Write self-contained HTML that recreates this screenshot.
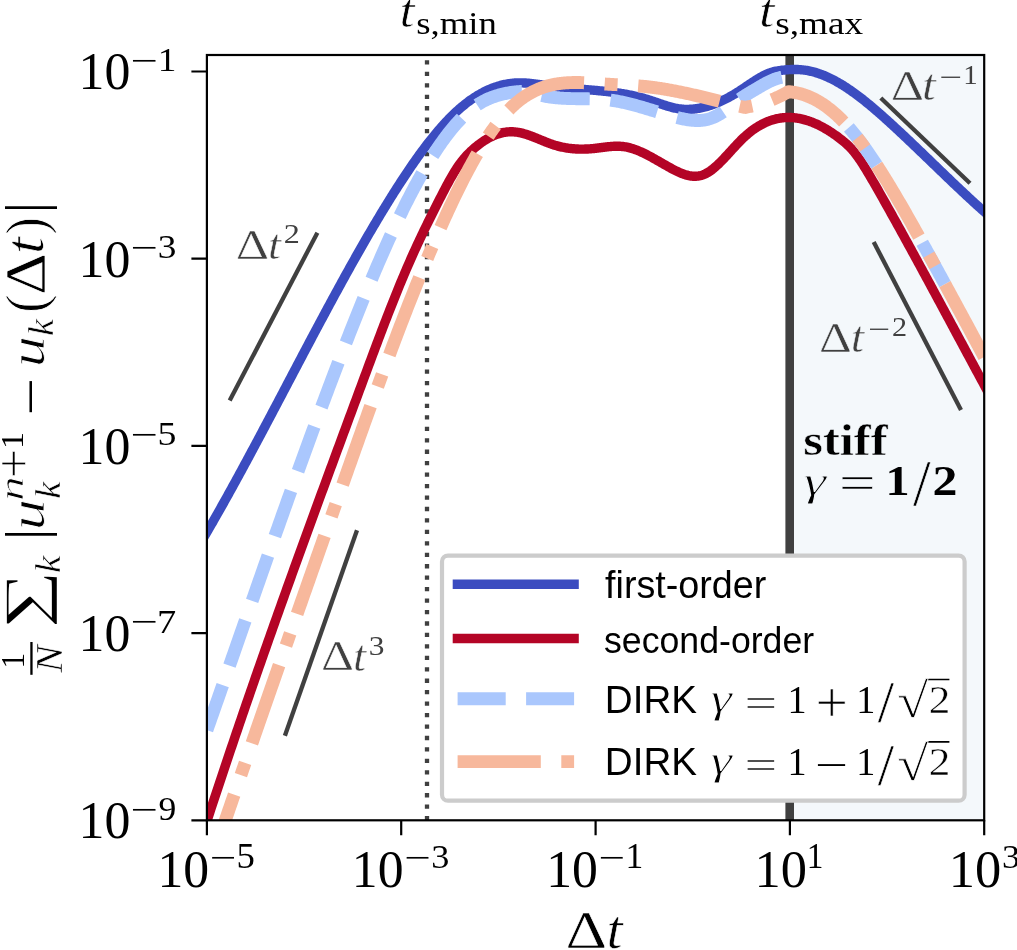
<!DOCTYPE html>
<html lang="en"><head><meta charset="utf-8"><title>Convergence of time integrators</title>
<style>
html,body{margin:0;padding:0;background:#fff}
svg{display:block}
text{font-family:"Liberation Serif","DejaVu Serif",serif;fill:#000}
.ss{font-family:"Liberation Sans","DejaVu Sans",sans-serif}
.it{font-style:italic}
.b{font-weight:bold}
.g{fill:#404040}
</style></head><body>
<svg width="1017" height="950" viewBox="0 0 1017 950">
<defs><clipPath id="ax"><rect x="206.9" y="55.0" width="777.3" height="765.3"/></clipPath></defs>
<rect width="1017" height="950" fill="#fff"/>
<g clip-path="url(#ax)">
<rect x="789.9" y="55" width="194.3" height="765.3" fill="#f4f8fb"/>
<line x1="789.7" y1="55" x2="789.7" y2="820.3" stroke="#404040" stroke-width="8.6"/>
<line x1="427" y1="820.3" x2="427" y2="55" stroke="#404040" stroke-width="4.3" stroke-dasharray="4.3 7.15" stroke-dashoffset="0.00"/>
<line x1="229.7" y1="400.5" x2="317.4" y2="232.7" stroke="#404040" stroke-width="4.3"/>
<line x1="284.9" y1="735.8" x2="357.0" y2="530.2" stroke="#404040" stroke-width="4.3"/>
<line x1="880.8" y1="98.0" x2="970.0" y2="183.3" stroke="#404040" stroke-width="4.3"/>
<line x1="873.7" y1="242.0" x2="961.0" y2="410.0" stroke="#404040" stroke-width="4.3"/>
<path d="M199.00 545.83 L207.60 530.96 L208.60 529.23 L209.60 527.50 L210.60 525.77 L211.60 524.03 L212.60 522.29 L213.60 520.54 L214.60 518.79 L215.60 517.03 L216.60 515.27 L217.61 513.51 L218.61 511.74 L219.61 509.97 L220.61 508.19 L221.61 506.42 L222.61 504.63 L223.61 502.85 L224.61 501.06 L225.61 499.26 L226.61 497.47 L227.61 495.67 L228.61 493.86 L229.61 492.06 L230.61 490.25 L231.61 488.44 L232.61 486.62 L233.61 484.80 L234.61 482.98 L235.61 481.15 L236.61 479.32 L237.62 477.49 L238.62 475.66 L239.62 473.82 L240.62 471.98 L241.62 470.14 L242.62 468.30 L243.62 466.45 L244.62 464.60 L245.62 462.75 L246.62 460.90 L247.62 459.04 L248.62 457.18 L249.62 455.32 L250.62 453.46 L251.62 451.59 L252.62 449.73 L253.62 447.86 L254.62 445.99 L255.62 444.11 L256.62 442.24 L257.63 440.36 L258.63 438.49 L259.63 436.61 L260.63 434.73 L261.63 432.84 L262.63 430.96 L263.63 429.07 L264.63 427.19 L265.63 425.30 L266.63 423.41 L267.63 421.52 L268.63 419.63 L269.63 417.74 L270.63 415.84 L271.63 413.95 L272.63 412.05 L273.63 410.16 L274.63 408.26 L275.63 406.36 L276.64 404.47 L277.64 402.57 L278.64 400.67 L279.64 398.77 L280.64 396.87 L281.64 394.97 L282.64 393.07 L283.64 391.16 L284.64 389.26 L285.64 387.36 L286.64 385.46 L287.64 383.56 L288.64 381.66 L289.64 379.75 L290.64 377.85 L291.64 375.95 L292.64 374.05 L293.64 372.15 L294.64 370.25 L295.64 368.35 L296.65 366.45 L297.65 364.55 L298.65 362.65 L299.65 360.75 L300.65 358.85 L301.65 356.96 L302.65 355.06 L303.65 353.17 L304.65 351.27 L305.65 349.38 L306.65 347.49 L307.65 345.60 L308.65 343.71 L309.65 341.82 L310.65 339.93 L311.65 338.04 L312.65 336.16 L313.65 334.28 L314.65 332.39 L315.66 330.51 L316.66 328.63 L317.66 326.76 L318.66 324.88 L319.66 323.01 L320.66 321.13 L321.66 319.26 L322.66 317.40 L323.66 315.53 L324.66 313.67 L325.66 311.80 L326.66 309.94 L327.66 308.08 L328.66 306.23 L329.66 304.38 L330.66 302.52 L331.66 300.68 L332.66 298.83 L333.66 296.99 L334.66 295.14 L335.67 293.31 L336.67 291.47 L337.67 289.64 L338.67 287.81 L339.67 285.98 L340.67 284.16 L341.67 282.33 L342.67 280.52 L343.67 278.70 L344.67 276.89 L345.67 275.08 L346.67 273.27 L347.67 271.47 L348.67 269.67 L349.67 267.87 L350.67 266.08 L351.67 264.29 L352.67 262.51 L353.67 260.73 L354.68 258.95 L355.68 257.17 L356.68 255.40 L357.68 253.64 L358.68 251.88 L359.68 250.12 L360.68 248.36 L361.68 246.61 L362.68 244.87 L363.68 243.12 L364.68 241.39 L365.68 239.65 L366.68 237.92 L367.68 236.20 L368.68 234.48 L369.68 232.76 L370.68 231.05 L371.68 229.34 L372.68 227.64 L373.68 225.95 L374.69 224.25 L375.69 222.57 L376.69 220.88 L377.69 219.21 L378.69 217.53 L379.69 215.87 L380.69 214.20 L381.69 212.55 L382.69 210.90 L383.69 209.25 L384.69 207.61 L385.69 205.97 L386.69 204.34 L387.69 202.72 L388.69 201.10 L389.69 199.48 L390.69 197.88 L391.69 196.28 L392.69 194.68 L393.69 193.09 L394.70 191.51 L395.70 189.93 L396.70 188.36 L397.70 186.80 L398.70 185.24 L399.70 183.69 L400.70 182.15 L401.70 180.61 L402.70 179.08 L403.70 177.56 L404.70 176.05 L405.70 174.54 L406.70 173.04 L407.70 171.56 L408.70 170.07 L409.70 168.60 L410.70 167.14 L411.70 165.68 L412.70 164.23 L413.71 162.80 L414.71 161.37 L415.71 159.95 L416.71 158.54 L417.71 157.14 L418.71 155.74 L419.71 154.36 L420.71 152.99 L421.71 151.63 L422.71 150.28 L423.71 148.93 L424.71 147.60 L425.71 146.28 L426.71 144.97 L427.71 143.67 L428.71 142.38 L429.71 141.11 L430.71 139.84 L431.71 138.59 L432.71 137.34 L433.72 136.11 L434.72 134.89 L435.72 133.68 L436.72 132.49 L437.72 131.31 L438.72 130.13 L439.72 128.98 L440.72 127.83 L441.72 126.70 L442.72 125.58 L443.72 124.47 L444.72 123.37 L445.72 122.29 L446.72 121.22 L447.72 120.17 L448.72 119.13 L449.72 118.10 L450.72 117.09 L451.72 116.09 L452.73 115.11 L453.73 114.14 L454.73 113.18 L455.73 112.24 L456.73 111.32 L457.73 110.41 L458.73 109.51 L459.73 108.63 L460.73 107.76 L461.73 106.91 L462.73 106.08 L463.73 105.26 L464.73 104.46 L465.73 103.67 L466.73 102.89 L467.73 102.13 L468.73 101.39 L469.73 100.66 L470.73 99.95 L471.73 99.25 L472.74 98.57 L473.74 97.90 L474.74 97.24 L475.74 96.61 L476.74 95.98 L477.74 95.37 L478.74 94.78 L479.74 94.20 L480.74 93.63 L481.74 93.08 L482.74 92.55 L483.74 92.03 L484.74 91.52 L485.74 91.03 L486.74 90.56 L487.74 90.09 L488.74 89.65 L489.74 89.21 L490.74 88.79 L491.74 88.39 L492.75 88.00 L493.75 87.63 L494.75 87.27 L495.75 86.92 L496.75 86.59 L497.75 86.27 L498.75 85.97 L499.75 85.68 L500.75 85.40 L501.75 85.14 L502.75 84.89 L503.75 84.66 L504.75 84.44 L505.75 84.24 L506.75 84.05 L507.75 83.87 L508.75 83.71 L509.75 83.56 L510.75 83.43 L511.76 83.31 L512.76 83.20 L513.76 83.11 L514.76 83.03 L515.76 82.97 L516.76 82.92 L517.76 82.88 L518.76 82.86 L519.76 82.85 L520.76 82.85 L521.76 82.86 L522.76 82.89 L523.76 82.93 L524.76 82.98 L525.76 83.04 L526.76 83.11 L527.76 83.18 L528.76 83.27 L529.76 83.37 L530.76 83.47 L531.77 83.57 L532.77 83.69 L533.77 83.81 L534.77 83.93 L535.77 84.06 L536.77 84.20 L537.77 84.33 L538.77 84.47 L539.77 84.61 L540.77 84.76 L541.77 84.90 L542.77 85.04 L543.77 85.19 L544.77 85.33 L545.77 85.47 L546.77 85.61 L547.77 85.75 L548.77 85.88 L549.77 86.02 L550.77 86.14 L551.78 86.27 L552.78 86.40 L553.78 86.52 L554.78 86.64 L555.78 86.75 L556.78 86.87 L557.78 86.98 L558.78 87.09 L559.78 87.20 L560.78 87.31 L561.78 87.41 L562.78 87.51 L563.78 87.61 L564.78 87.71 L565.78 87.81 L566.78 87.91 L567.78 88.00 L568.78 88.10 L569.78 88.19 L570.79 88.28 L571.79 88.37 L572.79 88.46 L573.79 88.55 L574.79 88.64 L575.79 88.73 L576.79 88.81 L577.79 88.90 L578.79 88.98 L579.79 89.07 L580.79 89.15 L581.79 89.24 L582.79 89.32 L583.79 89.40 L584.79 89.49 L585.79 89.57 L586.79 89.65 L587.79 89.74 L588.79 89.82 L589.79 89.91 L590.80 89.99 L591.80 90.08 L592.80 90.17 L593.80 90.26 L594.80 90.34 L595.80 90.43 L596.80 90.53 L597.80 90.62 L598.80 90.71 L599.80 90.81 L600.80 90.91 L601.80 91.01 L602.80 91.11 L603.80 91.21 L604.80 91.32 L605.80 91.43 L606.80 91.54 L607.80 91.65 L608.80 91.77 L609.81 91.88 L610.81 92.01 L611.81 92.13 L612.81 92.26 L613.81 92.39 L614.81 92.52 L615.81 92.66 L616.81 92.80 L617.81 92.95 L618.81 93.09 L619.81 93.25 L620.81 93.40 L621.81 93.56 L622.81 93.73 L623.81 93.90 L624.81 94.07 L625.81 94.25 L626.81 94.43 L627.81 94.62 L628.81 94.81 L629.82 95.01 L630.82 95.21 L631.82 95.42 L632.82 95.64 L633.82 95.85 L634.82 96.08 L635.82 96.31 L636.82 96.55 L637.82 96.79 L638.82 97.04 L639.82 97.29 L640.82 97.55 L641.82 97.82 L642.82 98.09 L643.82 98.37 L644.82 98.66 L645.82 98.95 L646.82 99.25 L647.82 99.56 L648.83 99.87 L649.83 100.20 L650.83 100.52 L651.83 100.86 L652.83 101.20 L653.83 101.54 L654.83 101.88 L655.83 102.23 L656.83 102.57 L657.83 102.92 L658.83 103.27 L659.83 103.61 L660.83 103.95 L661.83 104.29 L662.83 104.63 L663.83 104.96 L664.83 105.28 L665.83 105.60 L666.83 105.91 L667.83 106.22 L668.84 106.51 L669.84 106.80 L670.84 107.07 L671.84 107.33 L672.84 107.58 L673.84 107.82 L674.84 108.04 L675.84 108.25 L676.84 108.44 L677.84 108.62 L678.84 108.78 L679.84 108.92 L680.84 109.04 L681.84 109.14 L682.84 109.23 L683.84 109.30 L684.84 109.34 L685.84 109.37 L686.84 109.39 L687.84 109.38 L688.85 109.36 L689.85 109.32 L690.85 109.27 L691.85 109.20 L692.85 109.11 L693.85 109.01 L694.85 108.90 L695.85 108.77 L696.85 108.62 L697.85 108.46 L698.85 108.29 L699.85 108.10 L700.85 107.90 L701.85 107.69 L702.85 107.46 L703.85 107.22 L704.85 106.97 L705.85 106.70 L706.85 106.42 L707.86 106.13 L708.86 105.83 L709.86 105.51 L710.86 105.19 L711.86 104.85 L712.86 104.49 L713.86 104.13 L714.86 103.75 L715.86 103.37 L716.86 102.97 L717.86 102.55 L718.86 102.13 L719.86 101.70 L720.86 101.25 L721.86 100.79 L722.86 100.32 L723.86 99.84 L724.86 99.35 L725.86 98.85 L726.86 98.34 L727.87 97.81 L728.87 97.28 L729.87 96.73 L730.87 96.18 L731.87 95.61 L732.87 95.04 L733.87 94.45 L734.87 93.85 L735.87 93.24 L736.87 92.63 L737.87 92.00 L738.87 91.36 L739.87 90.71 L740.87 90.06 L741.87 89.40 L742.87 88.73 L743.87 88.05 L744.87 87.38 L745.87 86.70 L746.88 86.02 L747.88 85.34 L748.88 84.66 L749.88 83.98 L750.88 83.31 L751.88 82.64 L752.88 81.98 L753.88 81.33 L754.88 80.68 L755.88 80.05 L756.88 79.42 L757.88 78.81 L758.88 78.21 L759.88 77.63 L760.88 77.06 L761.88 76.51 L762.88 75.98 L763.88 75.46 L764.88 74.97 L765.88 74.50 L766.89 74.05 L767.89 73.63 L768.89 73.23 L769.89 72.86 L770.89 72.52 L771.89 72.21 L772.89 71.92 L773.89 71.67 L774.89 71.43 L775.89 71.22 L776.89 71.02 L777.89 70.85 L778.89 70.69 L779.89 70.54 L780.89 70.41 L781.89 70.28 L782.89 70.17 L783.89 70.06 L784.89 69.96 L785.89 69.87 L786.90 69.78 L787.90 69.71 L788.90 69.65 L789.90 69.59 L790.90 69.55 L791.90 69.51 L792.90 69.49 L793.90 69.48 L794.90 69.48 L795.90 69.49 L796.90 69.51 L797.90 69.55 L798.90 69.60 L799.90 69.66 L800.90 69.74 L801.90 69.83 L802.90 69.93 L803.90 70.05 L804.90 70.18 L805.91 70.32 L806.91 70.49 L807.91 70.66 L808.91 70.86 L809.91 71.07 L810.91 71.29 L811.91 71.53 L812.91 71.78 L813.91 72.04 L814.91 72.33 L815.91 72.62 L816.91 72.93 L817.91 73.25 L818.91 73.59 L819.91 73.94 L820.91 74.30 L821.91 74.68 L822.91 75.07 L823.91 75.47 L824.91 75.89 L825.92 76.31 L826.92 76.75 L827.92 77.21 L828.92 77.67 L829.92 78.15 L830.92 78.63 L831.92 79.13 L832.92 79.65 L833.92 80.17 L834.92 80.70 L835.92 81.25 L836.92 81.80 L837.92 82.37 L838.92 82.95 L839.92 83.53 L840.92 84.13 L841.92 84.74 L842.92 85.36 L843.92 85.99 L844.93 86.62 L845.93 87.27 L846.93 87.93 L847.93 88.59 L848.93 89.27 L849.93 89.95 L850.93 90.64 L851.93 91.34 L852.93 92.05 L853.93 92.77 L854.93 93.49 L855.93 94.23 L856.93 94.97 L857.93 95.72 L858.93 96.47 L859.93 97.24 L860.93 98.01 L861.93 98.79 L862.93 99.57 L863.93 100.36 L864.94 101.16 L865.94 101.96 L866.94 102.78 L867.94 103.59 L868.94 104.42 L869.94 105.24 L870.94 106.08 L871.94 106.92 L872.94 107.76 L873.94 108.61 L874.94 109.47 L875.94 110.33 L876.94 111.19 L877.94 112.06 L878.94 112.94 L879.94 113.81 L880.94 114.70 L881.94 115.58 L882.94 116.47 L883.94 117.37 L884.95 118.26 L885.95 119.16 L886.95 120.07 L887.95 120.97 L888.95 121.88 L889.95 122.80 L890.95 123.71 L891.95 124.63 L892.95 125.55 L893.95 126.47 L894.95 127.39 L895.95 128.32 L896.95 129.25 L897.95 130.18 L898.95 131.11 L899.95 132.04 L900.95 132.98 L901.95 133.92 L902.95 134.86 L903.96 135.80 L904.96 136.74 L905.96 137.68 L906.96 138.63 L907.96 139.58 L908.96 140.53 L909.96 141.48 L910.96 142.43 L911.96 143.38 L912.96 144.33 L913.96 145.29 L914.96 146.24 L915.96 147.20 L916.96 148.16 L917.96 149.11 L918.96 150.07 L919.96 151.03 L920.96 151.99 L921.96 152.96 L922.96 153.92 L923.97 154.88 L924.97 155.84 L925.97 156.81 L926.97 157.77 L927.97 158.73 L928.97 159.70 L929.97 160.66 L930.97 161.63 L931.97 162.59 L932.97 163.56 L933.97 164.52 L934.97 165.48 L935.97 166.45 L936.97 167.41 L937.97 168.38 L938.97 169.34 L939.97 170.30 L940.97 171.27 L941.97 172.23 L942.98 173.19 L943.98 174.15 L944.98 175.11 L945.98 176.07 L946.98 177.03 L947.98 177.99 L948.98 178.95 L949.98 179.90 L950.98 180.86 L951.98 181.81 L952.98 182.77 L953.98 183.72 L954.98 184.67 L955.98 185.62 L956.98 186.57 L957.98 187.51 L958.98 188.46 L959.98 189.40 L960.98 190.34 L961.98 191.28 L962.99 192.22 L963.99 193.16 L964.99 194.09 L965.99 195.03 L966.99 195.96 L967.99 196.89 L968.99 197.82 L969.99 198.74 L970.99 199.67 L971.99 200.59 L972.99 201.51 L973.99 202.42 L974.99 203.34 L975.99 204.25 L976.99 205.16 L977.99 206.06 L978.99 206.97 L979.99 207.87 L980.99 208.77 L981.99 209.66 L983.00 210.56 L984.00 211.45 L985.00 212.33 L986.00 213.22 L987.00 214.10 L988.00 214.98 L989.00 215.85 L990.00 216.73 L991.00 217.59 L992.00 218.46" fill="none" stroke="#3b4cc0" stroke-width="9.4" stroke-linejoin="round"/>
<path d="M199.00 845.33 L207.70 818.80 L208.70 815.74 L209.70 812.69 L210.70 809.64 L211.70 806.59 L212.70 803.56 L213.70 800.52 L214.70 797.49 L215.71 794.46 L216.71 791.44 L217.71 788.43 L218.71 785.41 L219.71 782.40 L220.71 779.40 L221.71 776.40 L222.71 773.40 L223.71 770.41 L224.71 767.42 L225.71 764.44 L226.71 761.46 L227.71 758.48 L228.71 755.51 L229.71 752.54 L230.71 749.58 L231.72 746.62 L232.72 743.66 L233.72 740.71 L234.72 737.76 L235.72 734.82 L236.72 731.87 L237.72 728.94 L238.72 726.00 L239.72 723.07 L240.72 720.15 L241.72 717.22 L242.72 714.30 L243.72 711.39 L244.72 708.48 L245.72 705.57 L246.73 702.66 L247.73 699.76 L248.73 696.86 L249.73 693.97 L250.73 691.07 L251.73 688.19 L252.73 685.30 L253.73 682.42 L254.73 679.54 L255.73 676.66 L256.73 673.79 L257.73 670.92 L258.73 668.06 L259.73 665.19 L260.73 662.33 L261.73 659.48 L262.74 656.62 L263.74 653.77 L264.74 650.92 L265.74 648.08 L266.74 645.24 L267.74 642.40 L268.74 639.56 L269.74 636.72 L270.74 633.89 L271.74 631.07 L272.74 628.24 L273.74 625.42 L274.74 622.60 L275.74 619.78 L276.74 616.96 L277.75 614.15 L278.75 611.34 L279.75 608.53 L280.75 605.73 L281.75 602.93 L282.75 600.13 L283.75 597.33 L284.75 594.53 L285.75 591.74 L286.75 588.95 L287.75 586.16 L288.75 583.37 L289.75 580.59 L290.75 577.81 L291.75 575.03 L292.75 572.25 L293.76 569.47 L294.76 566.70 L295.76 563.93 L296.76 561.16 L297.76 558.39 L298.76 555.63 L299.76 552.86 L300.76 550.10 L301.76 547.34 L302.76 544.58 L303.76 541.83 L304.76 539.07 L305.76 536.32 L306.76 533.57 L307.76 530.82 L308.77 528.07 L309.77 525.32 L310.77 522.58 L311.77 519.84 L312.77 517.10 L313.77 514.36 L314.77 511.62 L315.77 508.88 L316.77 506.15 L317.77 503.41 L318.77 500.68 L319.77 497.95 L320.77 495.22 L321.77 492.49 L322.77 489.76 L323.77 487.04 L324.78 484.31 L325.78 481.59 L326.78 478.86 L327.78 476.14 L328.78 473.42 L329.78 470.70 L330.78 467.98 L331.78 465.27 L332.78 462.55 L333.78 459.84 L334.78 457.12 L335.78 454.41 L336.78 451.69 L337.78 448.98 L338.78 446.27 L339.79 443.56 L340.79 440.85 L341.79 438.14 L342.79 435.43 L343.79 432.73 L344.79 430.02 L345.79 427.31 L346.79 424.61 L347.79 421.90 L348.79 419.20 L349.79 416.49 L350.79 413.79 L351.79 411.08 L352.79 408.38 L353.79 405.68 L354.79 402.98 L355.80 400.27 L356.80 397.57 L357.80 394.87 L358.80 392.17 L359.80 389.47 L360.80 386.77 L361.80 384.07 L362.80 381.36 L363.80 378.66 L364.80 375.96 L365.80 373.26 L366.80 370.57 L367.80 367.87 L368.80 365.18 L369.80 362.49 L370.81 359.80 L371.81 357.11 L372.81 354.43 L373.81 351.76 L374.81 349.08 L375.81 346.42 L376.81 343.75 L377.81 341.10 L378.81 338.45 L379.81 335.80 L380.81 333.16 L381.81 330.53 L382.81 327.91 L383.81 325.29 L384.81 322.68 L385.81 320.09 L386.82 317.50 L387.82 314.91 L388.82 312.34 L389.82 309.78 L390.82 307.23 L391.82 304.69 L392.82 302.16 L393.82 299.65 L394.82 297.14 L395.82 294.65 L396.82 292.17 L397.82 289.70 L398.82 287.25 L399.82 284.81 L400.82 282.39 L401.82 279.98 L402.83 277.58 L403.83 275.20 L404.83 272.84 L405.83 270.49 L406.83 268.16 L407.83 265.84 L408.83 263.55 L409.83 261.27 L410.83 259.00 L411.83 256.75 L412.83 254.52 L413.83 252.31 L414.83 250.10 L415.83 247.92 L416.83 245.74 L417.84 243.58 L418.84 241.44 L419.84 239.30 L420.84 237.18 L421.84 235.07 L422.84 232.98 L423.84 230.89 L424.84 228.82 L425.84 226.75 L426.84 224.70 L427.84 222.65 L428.84 220.62 L429.84 218.59 L430.84 216.57 L431.84 214.56 L432.84 212.56 L433.85 210.57 L434.85 208.58 L435.85 206.60 L436.85 204.62 L437.85 202.65 L438.85 200.69 L439.85 198.73 L440.85 196.78 L441.85 194.83 L442.85 192.89 L443.85 190.97 L444.85 189.06 L445.85 187.16 L446.85 185.29 L447.85 183.44 L448.86 181.61 L449.86 179.81 L450.86 178.04 L451.86 176.30 L452.86 174.59 L453.86 172.92 L454.86 171.29 L455.86 169.70 L456.86 168.16 L457.86 166.66 L458.86 165.21 L459.86 163.81 L460.86 162.46 L461.86 161.15 L462.86 159.90 L463.86 158.68 L464.87 157.51 L465.87 156.38 L466.87 155.29 L467.87 154.23 L468.87 153.21 L469.87 152.22 L470.87 151.26 L471.87 150.33 L472.87 149.42 L473.87 148.54 L474.87 147.68 L475.87 146.85 L476.87 146.03 L477.87 145.24 L478.87 144.46 L479.88 143.71 L480.88 142.98 L481.88 142.27 L482.88 141.59 L483.88 140.92 L484.88 140.28 L485.88 139.66 L486.88 139.06 L487.88 138.49 L488.88 137.94 L489.88 137.41 L490.88 136.90 L491.88 136.42 L492.88 135.96 L493.88 135.52 L494.88 135.11 L495.89 134.72 L496.89 134.35 L497.89 134.01 L498.89 133.69 L499.89 133.39 L500.89 133.12 L501.89 132.88 L502.89 132.65 L503.89 132.46 L504.89 132.28 L505.89 132.14 L506.89 132.01 L507.89 131.91 L508.89 131.84 L509.89 131.79 L510.90 131.77 L511.90 131.77 L512.90 131.80 L513.90 131.86 L514.90 131.94 L515.90 132.05 L516.90 132.18 L517.90 132.33 L518.90 132.50 L519.90 132.70 L520.90 132.92 L521.90 133.15 L522.90 133.41 L523.90 133.68 L524.90 133.97 L525.90 134.27 L526.91 134.59 L527.91 134.92 L528.91 135.27 L529.91 135.62 L530.91 135.99 L531.91 136.36 L532.91 136.74 L533.91 137.13 L534.91 137.53 L535.91 137.93 L536.91 138.34 L537.91 138.74 L538.91 139.16 L539.91 139.57 L540.91 139.98 L541.92 140.39 L542.92 140.80 L543.92 141.21 L544.92 141.62 L545.92 142.02 L546.92 142.41 L547.92 142.80 L548.92 143.18 L549.92 143.55 L550.92 143.91 L551.92 144.26 L552.92 144.60 L553.92 144.92 L554.92 145.24 L555.92 145.53 L556.92 145.82 L557.93 146.09 L558.93 146.35 L559.93 146.60 L560.93 146.84 L561.93 147.06 L562.93 147.27 L563.93 147.47 L564.93 147.66 L565.93 147.83 L566.93 147.99 L567.93 148.14 L568.93 148.28 L569.93 148.41 L570.93 148.53 L571.93 148.63 L572.94 148.73 L573.94 148.81 L574.94 148.89 L575.94 148.95 L576.94 149.00 L577.94 149.05 L578.94 149.08 L579.94 149.10 L580.94 149.12 L581.94 149.12 L582.94 149.11 L583.94 149.10 L584.94 149.07 L585.94 149.04 L586.94 149.00 L587.94 148.95 L588.95 148.89 L589.95 148.82 L590.95 148.74 L591.95 148.65 L592.95 148.56 L593.95 148.46 L594.95 148.35 L595.95 148.24 L596.95 148.12 L597.95 148.00 L598.95 147.87 L599.95 147.74 L600.95 147.61 L601.95 147.48 L602.95 147.36 L603.96 147.23 L604.96 147.11 L605.96 146.99 L606.96 146.87 L607.96 146.77 L608.96 146.66 L609.96 146.57 L610.96 146.49 L611.96 146.41 L612.96 146.35 L613.96 146.30 L614.96 146.26 L615.96 146.24 L616.96 146.23 L617.96 146.23 L618.96 146.26 L619.97 146.30 L620.97 146.36 L621.97 146.44 L622.97 146.54 L623.97 146.66 L624.97 146.81 L625.97 146.98 L626.97 147.17 L627.97 147.39 L628.97 147.62 L629.97 147.88 L630.97 148.16 L631.97 148.46 L632.97 148.77 L633.97 149.11 L634.98 149.46 L635.98 149.83 L636.98 150.21 L637.98 150.61 L638.98 151.03 L639.98 151.46 L640.98 151.90 L641.98 152.36 L642.98 152.83 L643.98 153.31 L644.98 153.80 L645.98 154.30 L646.98 154.81 L647.98 155.33 L648.98 155.86 L649.98 156.39 L650.99 156.94 L651.99 157.49 L652.99 158.04 L653.99 158.60 L654.99 159.17 L655.99 159.73 L656.99 160.30 L657.99 160.88 L658.99 161.45 L659.99 162.03 L660.99 162.61 L661.99 163.18 L662.99 163.76 L663.99 164.33 L664.99 164.91 L666.00 165.47 L667.00 166.04 L668.00 166.60 L669.00 167.16 L670.00 167.71 L671.00 168.25 L672.00 168.79 L673.00 169.32 L674.00 169.84 L675.00 170.35 L676.00 170.85 L677.00 171.34 L678.00 171.81 L679.00 172.27 L680.00 172.71 L681.00 173.13 L682.01 173.53 L683.01 173.90 L684.01 174.26 L685.01 174.59 L686.01 174.90 L687.01 175.18 L688.01 175.43 L689.01 175.65 L690.01 175.84 L691.01 175.99 L692.01 176.12 L693.01 176.20 L694.01 176.26 L695.01 176.27 L696.01 176.24 L697.02 176.17 L698.02 176.06 L699.02 175.91 L700.02 175.71 L701.02 175.47 L702.02 175.17 L703.02 174.83 L704.02 174.44 L705.02 173.99 L706.02 173.50 L707.02 172.96 L708.02 172.37 L709.02 171.75 L710.02 171.08 L711.02 170.37 L712.02 169.62 L713.03 168.83 L714.03 168.02 L715.03 167.17 L716.03 166.29 L717.03 165.38 L718.03 164.45 L719.03 163.49 L720.03 162.51 L721.03 161.51 L722.03 160.49 L723.03 159.46 L724.03 158.41 L725.03 157.35 L726.03 156.27 L727.03 155.19 L728.04 154.10 L729.04 153.01 L730.04 151.91 L731.04 150.81 L732.04 149.71 L733.04 148.61 L734.04 147.52 L735.04 146.44 L736.04 145.36 L737.04 144.29 L738.04 143.24 L739.04 142.19 L740.04 141.17 L741.04 140.16 L742.04 139.17 L743.04 138.21 L744.05 137.27 L745.05 136.35 L746.05 135.45 L747.05 134.58 L748.05 133.73 L749.05 132.90 L750.05 132.10 L751.05 131.32 L752.05 130.57 L753.05 129.83 L754.05 129.12 L755.05 128.43 L756.05 127.77 L757.05 127.12 L758.05 126.50 L759.06 125.90 L760.06 125.32 L761.06 124.76 L762.06 124.23 L763.06 123.71 L764.06 123.22 L765.06 122.75 L766.06 122.30 L767.06 121.87 L768.06 121.46 L769.06 121.08 L770.06 120.71 L771.06 120.36 L772.06 120.04 L773.06 119.73 L774.06 119.44 L775.07 119.18 L776.07 118.93 L777.07 118.71 L778.07 118.50 L779.07 118.31 L780.07 118.14 L781.07 117.99 L782.07 117.86 L783.07 117.75 L784.07 117.66 L785.07 117.59 L786.07 117.53 L787.07 117.50 L788.07 117.48 L789.07 117.48 L790.08 117.50 L791.08 117.53 L792.08 117.59 L793.08 117.66 L794.08 117.75 L795.08 117.86 L796.08 117.98 L797.08 118.12 L798.08 118.28 L799.08 118.45 L800.08 118.65 L801.08 118.86 L802.08 119.08 L803.08 119.32 L804.08 119.58 L805.08 119.86 L806.09 120.15 L807.09 120.45 L808.09 120.77 L809.09 121.11 L810.09 121.47 L811.09 121.83 L812.09 122.22 L813.09 122.62 L814.09 123.03 L815.09 123.46 L816.09 123.91 L817.09 124.36 L818.09 124.84 L819.09 125.32 L820.09 125.83 L821.09 126.34 L822.10 126.87 L823.10 127.42 L824.10 127.98 L825.10 128.55 L826.10 129.13 L827.10 129.73 L828.10 130.34 L829.10 130.97 L830.10 131.61 L831.10 132.26 L832.10 132.92 L833.10 133.60 L834.10 134.28 L835.10 134.99 L836.10 135.70 L837.11 136.43 L838.11 137.16 L839.11 137.91 L840.11 138.67 L841.11 139.45 L842.11 140.24 L843.11 141.05 L844.11 141.88 L845.11 142.74 L846.11 143.62 L847.11 144.53 L848.11 145.48 L849.11 146.46 L850.11 147.48 L851.11 148.54 L852.11 149.64 L853.12 150.79 L854.12 151.99 L855.12 153.24 L856.12 154.54 L857.12 155.89 L858.12 157.28 L859.12 158.71 L860.12 160.18 L861.12 161.69 L862.12 163.23 L863.12 164.79 L864.12 166.39 L865.12 168.00 L866.12 169.64 L867.12 171.30 L868.13 172.97 L869.13 174.66 L870.13 176.35 L871.13 178.06 L872.13 179.77 L873.13 181.49 L874.13 183.22 L875.13 184.96 L876.13 186.70 L877.13 188.45 L878.13 190.20 L879.13 191.96 L880.13 193.73 L881.13 195.50 L882.13 197.27 L883.13 199.05 L884.14 200.83 L885.14 202.61 L886.14 204.39 L887.14 206.18 L888.14 207.96 L889.14 209.75 L890.14 211.55 L891.14 213.34 L892.14 215.13 L893.14 216.93 L894.14 218.73 L895.14 220.53 L896.14 222.34 L897.14 224.14 L898.14 225.95 L899.15 227.76 L900.15 229.57 L901.15 231.38 L902.15 233.20 L903.15 235.02 L904.15 236.83 L905.15 238.65 L906.15 240.47 L907.15 242.30 L908.15 244.12 L909.15 245.95 L910.15 247.78 L911.15 249.60 L912.15 251.43 L913.15 253.27 L914.15 255.10 L915.16 256.93 L916.16 258.77 L917.16 260.61 L918.16 262.45 L919.16 264.28 L920.16 266.13 L921.16 267.97 L922.16 269.81 L923.16 271.65 L924.16 273.50 L925.16 275.35 L926.16 277.19 L927.16 279.04 L928.16 280.89 L929.16 282.74 L930.17 284.59 L931.17 286.44 L932.17 288.30 L933.17 290.15 L934.17 292.00 L935.17 293.86 L936.17 295.71 L937.17 297.57 L938.17 299.43 L939.17 301.28 L940.17 303.14 L941.17 305.00 L942.17 306.86 L943.17 308.72 L944.17 310.58 L945.17 312.44 L946.18 314.30 L947.18 316.16 L948.18 318.02 L949.18 319.88 L950.18 321.75 L951.18 323.61 L952.18 325.47 L953.18 327.33 L954.18 329.20 L955.18 331.06 L956.18 332.92 L957.18 334.79 L958.18 336.65 L959.18 338.51 L960.18 340.37 L961.19 342.24 L962.19 344.10 L963.19 345.96 L964.19 347.83 L965.19 349.69 L966.19 351.55 L967.19 353.41 L968.19 355.27 L969.19 357.14 L970.19 359.00 L971.19 360.86 L972.19 362.72 L973.19 364.58 L974.19 366.44 L975.19 368.30 L976.19 370.15 L977.20 372.01 L978.20 373.87 L979.20 375.72 L980.20 377.58 L981.20 379.44 L982.20 381.29 L983.20 383.14 L984.20 385.00 L992.00 399.45" fill="none" stroke="#b40426" stroke-width="9.4" stroke-linejoin="round"/>
<g fill="none" stroke="#aac7fd" stroke-width="12.9" stroke-linejoin="round">
<path d="M199.00 752.55 L200.08 749.49"/>
<path d="M206.92 730.05 L208.00 726.98 L209.00 724.14 L210.00 721.30 L211.00 718.46 L212.00 715.61 L213.00 712.77 L214.00 709.92 L215.00 707.07 L216.00 704.22 L217.00 701.37 L218.00 698.52 L219.00 695.66 L220.00 692.81 L221.00 689.95 L222.00 687.10 L222.72 685.05"/>
<path d="M229.52 665.60 L230.00 664.22 L231.00 661.36 L232.00 658.50 L233.00 655.63 L234.00 652.77 L235.00 649.91 L236.00 647.05 L237.00 644.18 L238.00 641.32 L239.00 638.46 L240.00 635.59 L241.00 632.73 L242.00 629.87 L243.00 627.00 L244.00 624.14 L245.00 621.28 L245.31 620.40"/>
<path d="M252.13 600.88 L253.00 598.39 L254.00 595.54 L255.00 592.68 L256.00 589.82 L257.00 586.97 L258.00 584.11 L259.00 581.26 L260.00 578.41 L261.00 575.56 L262.00 572.71 L263.00 569.86 L264.00 567.01 L265.00 564.16 L266.00 561.32 L267.00 558.48 L267.98 555.70"/>
<path d="M274.86 536.19 L276.00 532.96 L277.00 530.13 L278.00 527.31 L279.00 524.49 L280.00 521.67 L281.00 518.85 L282.00 516.03 L283.00 513.22 L284.00 510.41 L285.00 507.60 L286.00 504.79 L287.00 501.99 L288.00 499.18 L289.00 496.38 L290.00 493.59 L290.98 490.84"/>
<path d="M298.02 471.27 L299.00 468.54 L300.00 465.77 L301.00 463.01 L302.00 460.25 L303.00 457.49 L304.00 454.73 L305.00 451.98 L306.00 449.23 L307.00 446.49 L308.00 443.75 L309.00 441.01 L310.00 438.27 L311.00 435.54 L312.00 432.82 L313.00 430.09 L314.00 427.37 L314.34 426.44"/>
<path d="M321.49 407.12 L322.00 405.76 L323.00 403.08 L324.00 400.40 L325.00 397.73 L326.00 395.06 L327.00 392.39 L328.00 389.73 L329.00 387.07 L330.00 384.42 L331.00 381.78 L332.00 379.13 L333.00 376.50 L334.00 373.86 L335.00 371.24 L336.00 368.61 L337.00 366.00 L338.00 363.38 L338.45 362.22"/>
<path d="M345.92 342.89 L347.00 340.11 L348.00 337.55 L349.00 334.99 L350.00 332.45 L351.00 329.90 L352.00 327.37 L353.00 324.84 L354.00 322.32 L355.00 319.80 L356.00 317.29 L357.00 314.79 L358.00 312.29 L359.00 309.81 L360.00 307.33 L361.00 304.85 L362.00 302.39 L363.00 299.93 L363.66 298.30"/>
<path d="M371.59 279.15 L372.00 278.17 L373.00 275.80 L374.00 273.43 L375.00 271.08 L376.00 268.73 L377.00 266.40 L378.00 264.07 L379.00 261.76 L380.00 259.45 L381.00 257.15 L382.00 254.87 L383.00 252.59 L384.00 250.33 L385.00 248.08 L386.00 245.83 L387.00 243.60 L388.00 241.38 L389.00 239.17 L390.00 236.97 L390.92 234.96"/>
<path d="M399.79 216.10 L401.00 213.60 L402.00 211.55 L403.00 209.51 L404.00 207.49 L405.00 205.48 L406.00 203.48 L407.00 201.50 L408.00 199.53 L409.00 197.58 L410.00 195.64 L411.00 193.71 L412.00 191.80 L413.00 189.91 L414.00 188.03 L415.00 186.16 L416.00 184.31 L417.00 182.47 L418.00 180.65 L419.00 178.84 L420.00 177.05 L421.00 175.28 L422.08 173.39"/>
<path d="M432.81 155.56 L434.00 153.70 L435.00 152.16 L436.00 150.63 L437.00 149.13 L438.00 147.64 L439.00 146.17 L440.00 144.72 L441.00 143.29 L442.00 141.87 L443.00 140.48 L444.00 139.10 L445.00 137.74 L446.00 136.40 L447.00 135.08 L448.00 133.78 L449.00 132.50 L450.00 131.24 L451.00 130.00 L452.00 128.77 L453.00 127.57 L454.00 126.39 L455.00 125.23 L456.00 124.09 L457.00 122.97 L458.00 121.87 L459.00 120.79 L460.00 119.73 L461.55 118.13"/>
<path d="M477.12 104.98 L478.00 104.40 L479.00 103.76 L480.00 103.15 L481.00 102.55 L482.00 101.98 L483.00 101.43 L484.00 100.90 L485.00 100.39 L486.00 99.90 L487.00 99.43 L488.00 98.97 L489.00 98.54 L490.00 98.12 L491.00 97.72 L492.00 97.33 L493.00 96.96 L494.00 96.61 L495.00 96.27 L496.00 95.95 L497.00 95.63 L498.00 95.34 L499.00 95.05 L500.00 94.78 L501.00 94.52 L502.00 94.27 L503.00 94.04 L504.00 93.81 L505.00 93.59 L506.00 93.38 L507.00 93.18 L508.00 92.99 L509.00 92.81 L510.00 92.64 L511.00 92.47 L512.00 92.31 L513.00 92.16 L514.00 92.03 L515.00 91.90 L516.00 91.80 L517.00 91.70 L518.00 91.63 L519.00 91.58 L520.00 91.55 L521.78 91.55"/>
<path d="M541.76 95.47 L543.00 95.75 L544.00 95.96 L545.00 96.16 L546.00 96.35 L547.00 96.53 L548.00 96.70 L549.00 96.86 L550.00 97.01 L551.00 97.15 L552.00 97.29 L553.00 97.41 L554.00 97.53 L555.00 97.64 L556.00 97.74 L557.00 97.84 L558.00 97.93 L559.00 98.01 L560.00 98.09 L561.00 98.16 L562.00 98.22 L563.00 98.28 L564.00 98.33 L565.00 98.38 L566.00 98.43 L567.00 98.47 L568.00 98.50 L569.00 98.53 L570.00 98.56 L571.00 98.59 L572.00 98.61 L573.00 98.63 L574.00 98.65 L575.00 98.66 L576.00 98.68 L577.00 98.69 L578.00 98.70 L579.00 98.71 L580.00 98.72 L581.00 98.73 L582.00 98.73 L583.00 98.74 L584.00 98.75 L585.00 98.76 L586.00 98.77 L587.00 98.79 L588.00 98.80 L589.72 98.83"/>
<path d="M610.48 100.14 L612.00 100.35 L613.00 100.49 L614.00 100.64 L615.00 100.80 L616.00 100.97 L617.00 101.14 L618.00 101.33 L619.00 101.51 L620.00 101.71 L621.00 101.91 L622.00 102.12 L623.00 102.33 L624.00 102.55 L625.00 102.77 L626.00 103.00 L627.00 103.24 L628.00 103.48 L629.00 103.73 L630.00 103.98 L631.00 104.23 L632.00 104.49 L633.00 104.75 L634.00 105.02 L635.00 105.29 L636.00 105.56 L637.00 105.84 L638.00 106.12 L639.00 106.40 L640.00 106.69 L641.00 106.98 L642.00 107.27 L643.00 107.56 L644.00 107.86 L645.00 108.16 L646.00 108.46 L647.00 108.76 L648.00 109.06 L649.00 109.36 L650.00 109.66 L651.00 109.97 L652.00 110.27 L653.00 110.57 L654.00 110.88 L655.00 111.18 L656.00 111.49 L657.09 111.82"/>
<path d="M677.08 117.48 L678.00 117.71 L679.00 117.95 L680.00 118.19 L681.00 118.42 L682.00 118.64 L683.00 118.86 L684.00 119.06 L685.00 119.26 L686.00 119.44 L687.00 119.61 L688.00 119.77 L689.00 119.92 L690.00 120.05 L691.00 120.17 L692.00 120.27 L693.00 120.36 L694.00 120.43 L695.00 120.48 L696.00 120.51 L697.00 120.53 L698.00 120.52 L699.00 120.49 L700.00 120.44 L701.00 120.37 L702.00 120.28 L703.00 120.16 L704.00 120.01 L705.00 119.84 L706.00 119.65 L707.00 119.43 L708.00 119.18 L709.00 118.90 L710.00 118.59 L711.00 118.25 L712.00 117.88 L713.00 117.48 L714.00 117.05 L715.00 116.58 L716.00 116.09 L717.00 115.58 L718.00 115.03 L719.00 114.46 L720.00 113.86 L721.00 113.24 L722.00 112.59 L723.17 111.80"/>
<path d="M739.76 99.19 L741.00 98.31 L742.00 97.63 L743.00 96.96 L744.00 96.30 L745.00 95.65 L746.00 95.02 L747.00 94.40 L748.00 93.78 L749.00 93.17 L750.00 92.57 L751.00 91.97 L752.00 91.38 L753.00 90.78 L754.00 90.19 L755.00 89.60 L756.00 89.01 L757.00 88.41 L758.00 87.82 L759.00 87.23 L760.00 86.64 L761.00 86.06 L762.00 85.48 L763.00 84.91 L764.00 84.35 L765.00 83.80 L766.00 83.26 L767.00 82.74 L768.00 82.23 L769.00 81.73 L770.00 81.25 L771.00 80.79 L772.00 80.35 L773.00 79.92 L774.00 79.52 L775.00 79.14 L776.00 78.79 L777.00 78.46 L778.00 78.15 L779.00 77.88 L780.00 77.62 L781.00 77.40 L781.82 77.24"/>
<path d="M848.83 127.57 L849.72 128.59 L850.72 129.75 L851.73 130.93 L852.73 132.13 L853.73 133.34 L854.74 134.57 L855.74 135.81 L856.74 137.08 L857.75 138.35 L858.75 139.65 L859.75 140.96 L860.76 142.28 L861.76 143.62 L862.77 144.97 L863.77 146.34 L864.77 147.73 L865.78 149.12 L866.78 150.53 L867.78 151.96 L868.79 153.40 L869.79 154.85 L870.79 156.31 L871.80 157.78 L872.80 159.27 L873.81 160.77 L874.81 162.28 L875.81 163.81 L876.69 165.14"/>
<path d="M922.28 242.75 L922.98 244.02 L923.98 245.83 L924.99 247.66 L925.99 249.48 L927.00 251.30 L928.00 253.13 L929.00 254.96 L930.01 256.78 L931.01 258.61 L932.01 260.45 L933.02 262.28 L934.02 264.11 L935.02 265.94 L936.03 267.78 L937.03 269.61 L938.03 271.45 L939.04 273.29 L940.04 275.12 L941.05 276.96 L942.05 278.80 L943.05 280.64 L944.06 282.48 L944.98 284.18"/>
</g>
<g fill="none" stroke="#f7b89c" stroke-width="12.9" stroke-linejoin="round">
<path d="M214.00 853.39 L225.90 818.68 L226.90 815.76 L227.90 812.84 L228.90 809.92 L229.91 807.00 L230.91 804.09 L231.91 801.17 L232.91 798.26 L233.91 795.35 L234.20 794.52"/>
<path d="M240.91 775.04 L241.92 772.10 L242.92 769.20 L243.92 766.30 L245.12 762.85"/>
<path d="M251.86 743.38 L252.94 740.27 L253.94 737.39 L254.94 734.50 L255.94 731.62 L256.94 728.74 L257.94 725.85 L258.94 722.97 L259.95 720.09 L260.95 717.22 L261.95 714.34 L262.95 711.46 L263.95 708.59 L264.95 705.71 L265.95 702.84 L266.96 699.96 L267.96 697.09 L268.96 694.22 L269.96 691.35 L270.96 688.48 L271.96 685.61 L272.96 682.75 L273.96 679.88 L274.97 677.02 L275.97 674.15 L276.97 671.29 L277.97 668.42 L279.11 665.15"/>
<path d="M285.94 645.65 L286.98 642.69 L287.98 639.83 L288.98 636.98 L290.23 633.44"/>
<path d="M297.07 613.95 L298.00 611.31 L299.00 608.46 L300.00 605.61 L301.00 602.76 L302.00 599.91 L303.00 597.07 L304.01 594.22 L305.01 591.37 L306.01 588.52 L307.01 585.68 L308.01 582.83 L309.01 579.99 L310.01 577.14 L311.01 574.30 L312.02 571.45 L313.02 568.61 L314.02 565.77 L315.02 562.92 L316.02 560.08 L317.02 557.24 L318.02 554.39 L319.03 551.55 L320.03 548.71 L321.03 545.87 L322.03 543.03 L323.03 540.18 L324.03 537.34 L324.57 535.81"/>
<path d="M331.44 516.32 L332.04 514.61 L333.04 511.77 L334.05 508.93 L335.05 506.09 L335.74 504.12"/>
<path d="M342.62 484.63 L343.06 483.38 L344.06 480.54 L345.06 477.71 L346.06 474.87 L347.06 472.04 L348.06 469.21 L349.07 466.38 L350.07 463.55 L351.07 460.73 L352.07 457.90 L353.07 455.08 L354.07 452.26 L355.07 449.44 L356.08 446.62 L357.08 443.81 L358.08 441.00 L359.08 438.19 L360.08 435.38 L361.08 432.58 L362.08 429.77 L363.08 426.98 L364.09 424.18 L365.09 421.39 L366.09 418.60 L367.09 415.81 L368.09 413.03 L369.09 410.25 L370.09 407.48 L370.58 406.13"/>
<path d="M377.68 386.59 L378.11 385.42 L379.11 382.68 L380.11 379.95 L381.11 377.22 L382.16 374.37"/>
<path d="M389.38 354.88 L390.12 352.89 L391.12 350.22 L392.12 347.55 L393.13 344.89 L394.13 342.23 L395.13 339.58 L396.13 336.93 L397.13 334.29 L398.13 331.66 L399.13 329.04 L400.13 326.42 L401.14 323.80 L402.14 321.20 L403.14 318.60 L404.14 316.01 L405.14 313.43 L406.14 310.85 L407.14 308.28 L408.15 305.72 L409.15 303.17 L410.15 300.62 L411.15 298.08 L412.15 295.55 L413.15 293.03 L414.15 290.51 L415.15 288.01 L416.16 285.51 L417.16 283.02 L418.16 280.54 L419.37 277.55"/>
<path d="M427.25 258.42 L428.17 256.23 L429.17 253.85 L430.18 251.48 L431.18 249.12 L432.30 246.49"/>
<path d="M440.55 227.52 L441.19 226.08 L442.19 223.83 L443.19 221.60 L444.19 219.38 L445.20 217.17 L446.20 214.97 L447.20 212.78 L448.20 210.61 L449.20 208.45 L450.20 206.30 L451.20 204.16 L452.20 202.04 L453.21 199.93 L454.21 197.84 L455.21 195.75 L456.21 193.69 L457.21 191.63 L458.21 189.59 L459.21 187.57 L460.22 185.56 L461.22 183.56 L462.22 181.58 L463.22 179.62 L464.22 177.67 L465.22 175.74 L466.22 173.82 L467.23 171.92 L468.23 170.03 L469.23 168.16 L470.23 166.31 L471.23 164.48 L472.23 162.66 L473.23 160.86 L474.23 159.08 L475.24 157.32 L476.24 155.57 L477.35 153.66"/>
<path d="M488.22 136.17 L489.25 134.62 L490.26 133.15 L491.26 131.70 L492.26 130.28 L493.26 128.87 L494.26 127.48 L495.63 125.63"/>
<path d="M508.88 109.88 L510.28 108.46 L511.28 107.48 L512.29 106.52 L513.29 105.59 L514.29 104.68 L515.29 103.79 L516.29 102.92 L517.29 102.08 L518.29 101.26 L519.30 100.47 L520.30 99.69 L521.30 98.94 L522.30 98.21 L523.30 97.50 L524.30 96.81 L525.30 96.14 L526.30 95.49 L527.31 94.86 L528.31 94.25 L529.31 93.66 L530.31 93.09 L531.31 92.54 L532.31 92.01 L533.31 91.49 L534.32 90.99 L535.32 90.52 L536.32 90.05 L537.32 89.61 L538.32 89.18 L539.32 88.77 L540.32 88.37 L541.32 88.00 L542.33 87.63 L543.33 87.28 L544.33 86.95 L545.33 86.63 L546.33 86.33 L547.33 86.04 L548.33 85.76 L549.34 85.50 L550.34 85.25 L551.34 85.02 L552.34 84.79 L553.34 84.58 L554.34 84.39 L555.34 84.20 L556.35 84.02 L557.35 83.86 L558.35 83.71 L559.35 83.57 L560.35 83.44 L561.35 83.31 L562.35 83.20 L563.35 83.10 L564.36 83.01 L565.36 82.93 L566.36 82.85 L567.36 82.78 L568.36 82.73 L569.36 82.68 L570.36 82.63 L571.37 82.60 L572.37 82.57 L573.37 82.55 L574.37 82.53 L575.37 82.53 L576.37 82.52 L577.37 82.53 L578.37 82.54 L579.38 82.55 L580.38 82.57 L581.38 82.59 L582.38 82.62 L584.05 82.68"/>
<path d="M604.66 83.97 L606.41 84.09 L607.41 84.16 L608.42 84.22 L609.42 84.29 L610.42 84.35 L611.42 84.41 L612.42 84.47 L613.42 84.52 L614.42 84.57 L615.42 84.63 L616.43 84.68 L617.57 84.73"/>
<path d="M638.19 85.87 L639.46 85.97 L640.46 86.06 L641.46 86.15 L642.46 86.24 L643.46 86.34 L644.46 86.44 L645.47 86.54 L646.47 86.65 L647.47 86.76 L648.47 86.87 L649.47 86.99 L650.47 87.11 L651.47 87.23 L652.47 87.36 L653.48 87.49 L654.48 87.63 L655.48 87.76 L656.48 87.90 L657.48 88.05 L658.48 88.19 L659.48 88.34 L660.49 88.49 L661.49 88.65 L662.49 88.81 L663.49 88.97 L664.49 89.13 L665.49 89.30 L666.49 89.47 L667.49 89.64 L668.50 89.82 L669.50 89.99 L670.50 90.17 L671.50 90.36 L672.50 90.54 L673.50 90.73 L674.50 90.92 L675.51 91.11 L676.51 91.31 L677.51 91.50 L678.51 91.70 L679.51 91.90 L680.51 92.11 L681.51 92.31 L682.52 92.52 L683.52 92.73 L684.52 92.94 L685.52 93.16 L686.52 93.37 L687.52 93.59 L688.52 93.81 L689.52 94.03 L690.53 94.25 L691.53 94.48 L692.53 94.70 L693.53 94.93 L694.53 95.16 L695.53 95.39 L696.53 95.63 L697.54 95.86 L698.54 96.09 L699.54 96.33 L700.54 96.57 L701.54 96.81 L702.54 97.05 L703.54 97.29 L704.54 97.54 L705.55 97.78 L706.55 98.03 L707.55 98.27 L708.55 98.52 L709.55 98.77 L710.55 99.02 L711.55 99.27 L712.56 99.52 L713.56 99.78 L714.56 100.03 L715.56 100.28 L716.56 100.54 L717.56 100.79 L718.56 101.05 L719.58 101.31"/>
<path d="M739.67 106.27 L740.59 106.47 L741.59 106.69 L742.60 106.90 L743.60 107.11 L744.60 107.31 L745.60 107.51 L746.62 107.04 L747.64 106.88 L748.66 106.70 L749.69 106.52 L750.71 106.32 L752.29 105.99"/>
<path d="M772.00 99.80 L773.18 99.31 L774.20 98.87 L775.22 98.42 L776.24 97.95 L777.26 97.48 L778.29 97.00 L779.31 96.51 L780.33 96.00 L781.35 95.49 L782.37 94.97 L783.39 94.43 L784.41 93.89 L785.44 93.33 L786.46 92.76 L787.48 92.19 L788.50 91.60 L789.50 91.76 L790.51 91.86 L791.51 91.98 L792.51 92.11 L793.52 92.26 L794.52 92.42 L795.53 92.61 L796.53 92.80 L797.53 93.02 L798.54 93.25 L799.54 93.50 L800.54 93.77 L801.55 94.05 L802.55 94.35 L803.55 94.67 L804.56 95.01 L805.56 95.36 L806.56 95.73 L807.57 96.12 L808.57 96.52 L809.58 96.94 L810.58 97.38 L811.58 97.84 L812.59 98.31 L813.59 98.81 L814.59 99.32 L815.60 99.84 L816.60 100.39 L817.60 100.95 L818.61 101.53 L819.61 102.13 L820.61 102.75 L821.62 103.38 L822.62 104.03 L823.63 104.71 L824.63 105.39 L825.63 106.10 L826.64 106.83 L827.64 107.57 L828.64 108.33 L829.65 109.11 L830.65 109.91 L831.65 110.73 L832.66 111.56 L833.66 112.42 L834.67 113.29 L835.67 114.18 L836.67 115.09 L837.68 116.02 L838.68 116.97 L839.68 117.93 L840.69 118.92 L841.69 119.92 L842.69 120.94 L843.75 122.03"/>
<path d="M857.24 137.70 L857.75 138.35 L858.75 139.65 L859.75 140.96 L860.76 142.28 L861.76 143.62 L862.77 144.97 L863.77 146.34 L865.02 148.06"/>
<path d="M876.69 165.14 L877.82 166.88 L878.82 168.44 L879.83 170.01 L880.83 171.58 L881.83 173.17 L882.84 174.76 L883.84 176.37 L884.84 177.98 L885.85 179.60 L886.85 181.23 L887.86 182.87 L888.86 184.52 L889.86 186.18 L890.87 187.84 L891.87 189.51 L892.87 191.19 L893.88 192.87 L894.88 194.56 L895.88 196.26 L896.89 197.96 L897.89 199.67 L898.89 201.39 L899.90 203.11 L900.90 204.84 L901.91 206.57 L902.91 208.31 L903.91 210.06 L904.92 211.81 L905.92 213.56 L906.92 215.32 L907.93 217.09 L908.93 218.86 L909.93 220.63 L910.94 222.41 L911.94 224.19 L912.95 225.98 L913.95 227.77 L914.95 229.56 L915.96 231.36 L916.96 233.16 L917.96 234.96 L918.85 236.55"/>
<path d="M928.84 254.66 L930.01 256.78 L931.01 258.61 L932.01 260.45 L933.02 262.28 L934.02 264.11 L935.07 266.02"/>
<path d="M944.98 284.18 L946.06 286.17 L947.07 288.01 L948.07 289.86 L949.07 291.70 L950.08 293.55 L951.08 295.40 L952.09 297.24 L953.09 299.09 L954.09 300.94 L955.10 302.79 L956.10 304.64 L957.10 306.50 L958.11 308.35 L959.11 310.20 L960.11 312.05 L961.12 313.91 L962.12 315.76 L963.12 317.62 L964.13 319.48 L965.13 321.34 L966.14 323.19 L967.14 325.05 L968.14 326.91 L969.15 328.77 L970.15 330.63 L971.15 332.50 L972.16 334.36 L973.16 336.22 L974.16 338.08 L975.17 339.95 L976.17 341.81 L977.17 343.68 L978.18 345.55 L979.18 347.41 L980.19 349.28 L981.19 351.15 L982.19 353.02 L983.20 354.89 L984.25 356.84"/>
</g>
</g>
<rect x="206.9" y="55.0" width="777.3" height="765.3" fill="none" stroke="#000" stroke-width="2.2"/>
<path d="M206.9 820.3v15M206.9 820.3h-15.5M401.2 820.3v15M206.9 633.1h-15.5M595.6 820.3v15M206.9 445.9h-15.5M789.9 820.3v15M206.9 258.7h-15.5M984.2 820.3v15M206.9 71.5h-15.5" stroke="#000" stroke-width="2.2" fill="none"/>
<rect x="442" y="555.6" width="522.6" height="245.1" rx="6" ry="6" fill="#fff" stroke="#ccc" stroke-width="4.2"/>
<path d="M452.7 584.2H578.8" stroke="#3b4cc0" stroke-width="9.4"/>
<path d="M452.7 638.5H578.8" stroke="#b40426" stroke-width="9.4"/>
<path d="M457.6 698.8H574.1" stroke="#aac7fd" stroke-width="12.9" stroke-dasharray="48.1 20.4"/>
<path d="M457.6 761.6H574.1" stroke="#f7b89c" stroke-width="12.9" stroke-dasharray="83.2 20.5 12.9 20.5"/>
<path d="M927 679.5H949.4M927 741.9H949.4" stroke="#000" stroke-width="1.6"/>
<text class="it" font-size="47.58" stroke="#fff" stroke-width="0.66" transform="translate(399.53 26.73) scale(1.1333 1.0024)">t</text>
<text font-size="32.0" transform="translate(416.17 33.7) scale(1.1488 1.0)">s,min</text>
<text class="it" font-size="47.58" stroke="#fff" stroke-width="0.65" transform="translate(758.88 26.73) scale(1.1583 1.0024)">t</text>
<text font-size="30.51" transform="translate(775.27 33.98) scale(1.2199 1.0105)">s,max</text>
<text font-size="52.19" transform="translate(78.46 838.33) scale(0.9942 1.0019)">10</text>
<text font-size="34" transform="translate(130.22 820.53) scale(1.425 1.0)">−</text>
<text font-size="33.9" transform="translate(158.55 819.66) scale(1.05 1.0059)">9</text>
<text font-size="52.19" transform="translate(78.46 651.08) scale(0.9942 1.0019)">10</text>
<text font-size="34" transform="translate(130.22 633.28) scale(1.425 1.0)">−</text>
<text font-size="34.91" transform="translate(157.03 632.75) scale(1.1 0.9913)">7</text>
<text font-size="52.19" transform="translate(78.46 463.83) scale(0.9942 1.0019)">10</text>
<text font-size="34" transform="translate(130.22 446.03) scale(1.425 1.0)">−</text>
<text font-size="34.4" transform="translate(157.4 445.17) scale(1.1 0.9913)">5</text>
<text font-size="52.19" transform="translate(78.46 276.58) scale(0.9942 1.0019)">10</text>
<text font-size="34" transform="translate(130.22 258.78) scale(1.425 1.0)">−</text>
<text font-size="33.9" transform="translate(157.77 257.91) scale(1.1 1.0059)">3</text>
<text font-size="52.19" transform="translate(78.46 89.33) scale(0.9942 1.0019)">10</text>
<text font-size="34" transform="translate(130.22 71.53) scale(1.425 1.0)">−</text>
<text font-size="34.41" transform="translate(157.65 71.0) scale(1.0833 1.0059)">1</text>
<text font-size="52.48" transform="translate(157.5 886.94) scale(0.9854 0.9953)">10</text>
<text font-size="34" transform="translate(209.6 868.83) scale(1.3812 1.0)">−</text>
<text font-size="35.1" transform="translate(236.61 867.87) scale(1.0465 0.9943)">5</text>
<text font-size="52.48" transform="translate(351.83 886.94) scale(0.9854 0.9953)">10</text>
<text font-size="34" transform="translate(403.92 868.83) scale(1.3813 1.0)">−</text>
<text font-size="34.59" transform="translate(431.28 867.87) scale(1.0465 0.9943)">3</text>
<text font-size="52.48" transform="translate(546.15 886.94) scale(0.9854 0.9953)">10</text>
<text font-size="34" transform="translate(598.25 868.83) scale(1.3813 1.0)">−</text>
<text font-size="35.12" transform="translate(625.61 868.2) scale(1.0135 0.9943)">1</text>
<text font-size="52.48" transform="translate(754.4 886.94) scale(1.0007 0.9953)">10</text>
<text font-size="35.12" transform="translate(806.63 868.2) scale(0.9486 0.9943)">1</text>
<text font-size="52.48" transform="translate(948.73 886.94) scale(1.0007 0.9953)">10</text>
<text font-size="34.59" transform="translate(1002.07 867.87) scale(1.0395 0.9943)">3</text>
<text font-size="53.72" stroke="#fff" stroke-width="0.55" transform="translate(565.59 948.0) scale(1.2065 0.9925)">Δ</text>
<text class="it" font-size="54.43" stroke="#fff" stroke-width="0.58" transform="translate(606.42 947.84) scale(1.0643 0.9957)">t</text>
<text class="g" font-size="42.24" stroke="#fff" stroke-width="0.54" transform="translate(235.75 258.8) scale(1.2292 0.9964)">Δ</text>
<text class="it g" font-size="43.54" stroke="#fff" stroke-width="0.48" transform="translate(268.05 258.67) scale(1.0727 0.992)">t</text>
<text class="g" font-size="26.6" transform="translate(283.79 242.5) scale(1.2091 1.0019)">2</text>
<text class="g" font-size="42.24" stroke="#fff" stroke-width="0.54" transform="translate(321.07 670.3) scale(1.2167 0.9964)">Δ</text>
<text class="it g" font-size="44.01" stroke="#fff" stroke-width="0.48" transform="translate(353.05 670.57) scale(1.0727 1.004)">t</text>
<text class="g" font-size="27.2" transform="translate(368.66 654.57) scale(1.1559 1.0036)">3</text>
<text class="g" font-size="41.94" stroke="#f4f8fb" stroke-width="0.54" transform="translate(890.64 99.8) scale(1.2338 1.0048)">Δ</text>
<text class="it g" font-size="44.01" stroke="#f4f8fb" stroke-width="0.47" transform="translate(922.06 99.97) scale(1.1182 1.004)">t</text>
<text class="g" font-size="27" transform="translate(939.2 85.9) scale(1.5 1.0)">−</text>
<text class="g" font-size="26.9" transform="translate(963.29 83.9) scale(1.0759 1.0075)">1</text>
<text class="g" font-size="42.14" stroke="#f4f8fb" stroke-width="0.55" transform="translate(819.08 352.2) scale(1.2125 0.9893)">Δ</text>
<text class="it g" font-size="43.31" stroke="#f4f8fb" stroke-width="0.47" transform="translate(850.68 352.36) scale(1.1091 1.0095)">t</text>
<text class="g" font-size="27" transform="translate(867.96 338.1) scale(1.4526 1.0)">−</text>
<text class="g" font-size="26.2" transform="translate(892.05 336.0) scale(1.1531 1.0038)">2</text>
<text class="b" font-size="44.06" stroke="#f4f8fb" stroke-width="0.46" transform="translate(803.17 454.96) scale(1.1505 1.0053)">stiff</text>
<text class="it" font-size="43.32" stroke="#f4f8fb" stroke-width="0.88" transform="translate(803.83 494.74) scale(1.3096 0.992)">γ</text>
<text font-size="46.86" stroke="#f4f8fb" stroke-width="0.67" transform="translate(838.82 499.36) scale(1.4077 1.02)">=</text>
<text class="b" font-size="41.76" transform="translate(885.45 494.6) scale(1.1543 0.9976)">1</text>
<text font-size="65.7" stroke="#f4f8fb" stroke-width="0.61" transform="translate(912.9 505.33) scale(0.9655 0.9977)">/</text>
<text class="b" font-size="41.8" transform="translate(932.51 494.6) scale(1.1942 0.9976)">2</text>
<text class="ss" font-size="37.81" transform="translate(605.04 598.17) scale(0.9973 1.0048)">first-order</text>
<text class="ss" font-size="37.18" transform="translate(604.04 653.07) scale(0.9594 1.0024)">second-order</text>
<text class="ss" font-size="37.78" transform="translate(604.83 712.8) scale(1.0223 1.0038)">DIRK</text>
<text class="it" font-size="40.19" stroke="#fff" stroke-width="0.86" transform="translate(710.6 711.97) scale(1.3563 0.9963)">γ</text>
<text font-size="38.75" stroke="#fff" stroke-width="0.48" transform="translate(744.27 716.71) scale(1.5167 1.0138)">=</text>
<text font-size="39.31" transform="translate(787.46 712.9) scale(0.9714 1.0038)">1</text>
<text font-size="56.73" stroke="#fff" stroke-width="0.59" transform="translate(815.4 721.9) scale(1.0125 1.0063)">+</text>
<text font-size="39.91" transform="translate(856.21 713.0) scale(0.9558 0.9987)">1</text>
<text font-size="58.7" stroke="#fff" stroke-width="0.50" transform="translate(877.8 722.23) scale(0.998 1.0017)">/</text>
<text font-size="48.79" stroke="#fff" stroke-width="0.74" transform="translate(896.95 717.37) scale(1.1645 1.0026)">√</text>
<text font-size="39.91" stroke="#fff" stroke-width="0.48" transform="translate(928.8 713.0) scale(1.0812 0.9987)">2</text>
<text class="ss" font-size="37.78" transform="translate(604.83 775.2) scale(1.0223 1.0038)">DIRK</text>
<text class="it" font-size="40.19" stroke="#fff" stroke-width="0.86" transform="translate(710.6 774.37) scale(1.3563 0.9963)">γ</text>
<text font-size="38.75" stroke="#fff" stroke-width="0.48" transform="translate(744.27 779.11) scale(1.5167 1.0138)">=</text>
<text font-size="39.31" transform="translate(787.46 775.3) scale(0.9714 1.0038)">1</text>
<text font-size="39" transform="translate(815.1 778.4) scale(1.5 1.0)">−</text>
<text font-size="39.91" transform="translate(856.21 775.4) scale(0.9558 0.9987)">1</text>
<text font-size="58.7" stroke="#fff" stroke-width="0.50" transform="translate(877.8 784.63) scale(0.998 1.0017)">/</text>
<text font-size="48.79" stroke="#fff" stroke-width="0.74" transform="translate(896.95 779.77) scale(1.1645 1.0026)">√</text>
<text font-size="39.91" stroke="#fff" stroke-width="0.48" transform="translate(928.8 775.4) scale(1.0812 0.9987)">2</text>
<g transform="translate(44.6 675) rotate(-90)">
<rect x="0.2" y="-14.3" width="32.8" height="2.3"/>
<text font-size="33.2" transform="translate(6.57 -21.0) scale(0.9429 0.9955)">1</text>
<text class="it" font-size="37.2" stroke="#fff" stroke-width="0.47" transform="translate(2.17 17.7) scale(1.1111 1.0027)">N</text>
<text font-size="79.22" stroke="#fff" stroke-width="1.68" transform="translate(45.98 12.7) scale(1.2744 0.9981)">Σ</text>
<text class="it" font-size="36.42" stroke="#fff" stroke-width="0.48" transform="translate(101.8 15.2) scale(1.0979 0.9987)">k</text>
<text font-size="56.91" transform="translate(135.5 0.39) scale(0.9 0.9981)">|</text>
<text class="it" font-size="51.16" stroke="#fff" stroke-width="0.82" transform="translate(144.75 -0.17) scale(1.219 0.9986)">u</text>
<text class="it" font-size="34.98" stroke="#fff" stroke-width="0.48" transform="translate(176.19 15.0) scale(1.1067 0.9986)">k</text>
<text class="it" font-size="33.46" stroke="#fff" stroke-width="0.73" transform="translate(174.02 -21.5) scale(1.4857 1.0149)">n</text>
<text font-size="51.71" stroke="#fff" stroke-width="0.60" transform="translate(197.04 -13.21) scale(0.9958 0.9986)">+</text>
<text font-size="33.06" transform="translate(226.09 -21.5) scale(1.0371 0.9864)">1</text>
<text font-size="52" transform="translate(259.37 3.63) scale(1.2875 1.0)">−</text>
<text class="it" font-size="50.59" stroke="#fff" stroke-width="0.81" transform="translate(307.71 -0.27) scale(1.2339 1.0)">u</text>
<text class="it" font-size="35.65" stroke="#fff" stroke-width="0.48" transform="translate(339.12 8.1) scale(1.0761 1.0014)">k</text>
<text font-size="57.68" stroke="#fff" stroke-width="0.91" transform="translate(361.98 0.72) scale(0.9818 0.9981)">(</text>
<text font-size="56.54" stroke="#fff" stroke-width="0.65" transform="translate(379.99 0.5) scale(1.1567 1.0045)">Δ</text>
<text class="it" font-size="55.93" stroke="#fff" stroke-width="0.67" transform="translate(421.08 -1.17) scale(1.0814 0.999)">t</text>
<text font-size="57.68" stroke="#fff" stroke-width="0.94" transform="translate(440.26 0.72) scale(0.9205 0.9981)">)</text>
<text font-size="56.91" transform="translate(462.3 0.39) scale(0.9 0.9981)">|</text>
</g>
</svg>
</body></html>
